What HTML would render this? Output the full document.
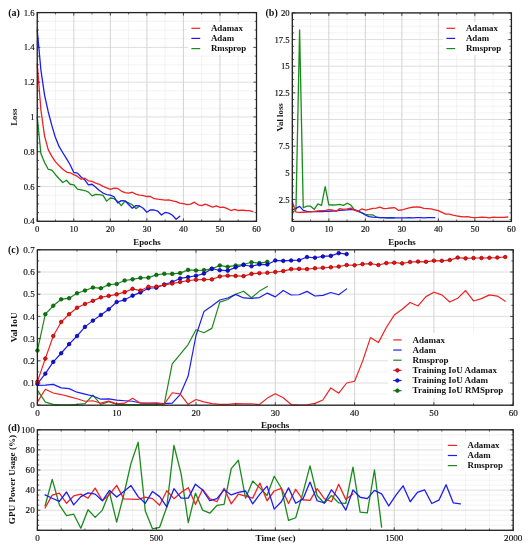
<!DOCTYPE html>
<html><head><meta charset="utf-8"><title>Figure</title>
<style>
html,body{margin:0;padding:0;background:#fff;}
body{width:528px;height:550px;overflow:hidden;}
svg{display:block;}
svg text{font-family:"Liberation Serif",serif;fill:#1a1a1a;}
.t{font-size:8.7px;fill:#0a0a0a;stroke:#0a0a0a;stroke-width:0.15px;}
.t2{font-size:9.1px;fill:#0a0a0a;stroke:#0a0a0a;stroke-width:0.15px;}
.b2{font-size:9.15px;font-weight:bold;fill:#111;}
.b{font-size:8.85px;font-weight:bold;fill:#111;}
</style></head><body>
<svg width="528" height="550" viewBox="0 0 528 550">
<rect width="528" height="550" fill="#fff"/>
<rect x="37.25" y="12.60" width="219.25" height="208.70" fill="#fff"/>
<line x1="55.52" x2="55.52" y1="12.60" y2="221.30" stroke="#eeeeee" stroke-width="0.7"/>
<line x1="92.06" x2="92.06" y1="12.60" y2="221.30" stroke="#eeeeee" stroke-width="0.7"/>
<line x1="128.60" x2="128.60" y1="12.60" y2="221.30" stroke="#eeeeee" stroke-width="0.7"/>
<line x1="165.15" x2="165.15" y1="12.60" y2="221.30" stroke="#eeeeee" stroke-width="0.7"/>
<line x1="201.69" x2="201.69" y1="12.60" y2="221.30" stroke="#eeeeee" stroke-width="0.7"/>
<line x1="238.23" x2="238.23" y1="12.60" y2="221.30" stroke="#eeeeee" stroke-width="0.7"/>
<line y1="212.60" y2="212.60" x1="37.25" x2="256.50" stroke="#eeeeee" stroke-width="0.7"/>
<line y1="203.91" y2="203.91" x1="37.25" x2="256.50" stroke="#eeeeee" stroke-width="0.7"/>
<line y1="195.21" y2="195.21" x1="37.25" x2="256.50" stroke="#eeeeee" stroke-width="0.7"/>
<line y1="177.82" y2="177.82" x1="37.25" x2="256.50" stroke="#eeeeee" stroke-width="0.7"/>
<line y1="169.12" y2="169.12" x1="37.25" x2="256.50" stroke="#eeeeee" stroke-width="0.7"/>
<line y1="160.43" y2="160.43" x1="37.25" x2="256.50" stroke="#eeeeee" stroke-width="0.7"/>
<line y1="143.04" y2="143.04" x1="37.25" x2="256.50" stroke="#eeeeee" stroke-width="0.7"/>
<line y1="134.34" y2="134.34" x1="37.25" x2="256.50" stroke="#eeeeee" stroke-width="0.7"/>
<line y1="125.65" y2="125.65" x1="37.25" x2="256.50" stroke="#eeeeee" stroke-width="0.7"/>
<line y1="108.25" y2="108.25" x1="37.25" x2="256.50" stroke="#eeeeee" stroke-width="0.7"/>
<line y1="99.56" y2="99.56" x1="37.25" x2="256.50" stroke="#eeeeee" stroke-width="0.7"/>
<line y1="90.86" y2="90.86" x1="37.25" x2="256.50" stroke="#eeeeee" stroke-width="0.7"/>
<line y1="73.47" y2="73.47" x1="37.25" x2="256.50" stroke="#eeeeee" stroke-width="0.7"/>
<line y1="64.78" y2="64.78" x1="37.25" x2="256.50" stroke="#eeeeee" stroke-width="0.7"/>
<line y1="56.08" y2="56.08" x1="37.25" x2="256.50" stroke="#eeeeee" stroke-width="0.7"/>
<line y1="38.69" y2="38.69" x1="37.25" x2="256.50" stroke="#eeeeee" stroke-width="0.7"/>
<line y1="29.99" y2="29.99" x1="37.25" x2="256.50" stroke="#eeeeee" stroke-width="0.7"/>
<line y1="21.30" y2="21.30" x1="37.25" x2="256.50" stroke="#eeeeee" stroke-width="0.7"/>
<line x1="37.25" x2="37.25" y1="12.60" y2="221.30" stroke="#c8c8c8" stroke-width="0.8"/>
<line x1="73.79" x2="73.79" y1="12.60" y2="221.30" stroke="#c8c8c8" stroke-width="0.8"/>
<line x1="110.33" x2="110.33" y1="12.60" y2="221.30" stroke="#c8c8c8" stroke-width="0.8"/>
<line x1="146.88" x2="146.88" y1="12.60" y2="221.30" stroke="#c8c8c8" stroke-width="0.8"/>
<line x1="183.42" x2="183.42" y1="12.60" y2="221.30" stroke="#c8c8c8" stroke-width="0.8"/>
<line x1="219.96" x2="219.96" y1="12.60" y2="221.30" stroke="#c8c8c8" stroke-width="0.8"/>
<line x1="256.50" x2="256.50" y1="12.60" y2="221.30" stroke="#c8c8c8" stroke-width="0.8"/>
<line y1="221.30" y2="221.30" x1="37.25" x2="256.50" stroke="#d6d6d6" stroke-width="0.8"/>
<line y1="186.52" y2="186.52" x1="37.25" x2="256.50" stroke="#d6d6d6" stroke-width="0.8"/>
<line y1="151.73" y2="151.73" x1="37.25" x2="256.50" stroke="#d6d6d6" stroke-width="0.8"/>
<line y1="116.95" y2="116.95" x1="37.25" x2="256.50" stroke="#d6d6d6" stroke-width="0.8"/>
<line y1="82.17" y2="82.17" x1="37.25" x2="256.50" stroke="#d6d6d6" stroke-width="0.8"/>
<line y1="47.38" y2="47.38" x1="37.25" x2="256.50" stroke="#d6d6d6" stroke-width="0.8"/>
<line y1="12.60" y2="12.60" x1="37.25" x2="256.50" stroke="#d6d6d6" stroke-width="0.8"/>
<polyline points="37.25,116.95 40.90,153.47 44.56,162.52 48.21,169.30 51.87,170.17 55.52,174.69 59.17,178.69 62.83,182.52 66.48,180.26 70.14,184.26 73.79,184.78 77.45,189.13 81.10,189.82 84.75,190.52 88.41,192.08 92.06,195.91 95.72,194.34 99.37,194.69 103.02,195.39 106.68,201.13 110.33,198.00 113.99,198.69 117.64,201.30 121.30,205.65 124.95,201.13 128.60,202.86 132.26,204.78 135.91,208.60 139.57,206.17" fill="none" stroke="#1a8a1a" stroke-width="1.3" stroke-linejoin="round" stroke-linecap="round"/>
<polyline points="37.25,29.99 40.90,69.99 44.56,95.04 48.21,111.73 51.87,125.65 55.52,137.82 59.17,146.69 62.83,152.78 66.48,158.69 70.14,164.78 73.79,172.43 77.45,173.13 81.10,176.95 84.75,179.91 88.41,184.78 92.06,184.26 95.72,187.21 99.37,190.52 103.02,193.04 106.68,194.52 110.33,195.04 113.99,196.78 117.64,202.86 121.30,200.60 124.95,200.78 128.60,204.43 132.26,208.26 135.91,205.65 139.57,206.00 143.22,208.26 146.88,212.26 150.53,209.82 154.18,210.00 157.84,211.21 161.49,215.04 165.15,212.43 168.80,213.13 172.45,215.30 176.11,219.21 179.76,216.26" fill="none" stroke="#1c1cf0" stroke-width="1.3" stroke-linejoin="round" stroke-linecap="round"/>
<polyline points="37.25,63.91 40.90,109.99 44.56,136.08 48.21,149.65 51.87,156.43 55.52,161.82 59.17,165.82 62.83,169.30 66.48,172.08 70.14,172.78 73.79,174.69 77.45,176.43 81.10,179.21 84.75,178.17 88.41,180.78 92.06,181.47 95.72,183.04 99.37,184.26 103.02,186.34 106.68,187.91 110.33,189.30 113.99,188.08 117.64,188.43 121.30,191.04 124.95,192.60 128.60,193.04 132.26,192.26 135.91,194.17 139.57,195.04 143.22,195.73 146.88,196.52 150.53,196.43 154.18,198.69 157.84,199.21 161.49,199.56 165.15,200.08 168.80,199.91 172.45,200.78 176.11,201.65 179.76,203.21 183.42,203.56 187.07,204.60 190.72,204.08 194.38,202.17 198.03,204.78 201.69,205.65 205.34,204.08 209.00,205.65 212.65,207.13 216.30,205.91 219.96,207.39 223.61,207.13 227.27,208.60 230.92,210.52 234.58,209.47 238.23,210.52 241.88,210.17 245.54,210.52 249.19,210.60 252.85,211.56" fill="none" stroke="#ee2222" stroke-width="1.3" stroke-linejoin="round" stroke-linecap="round"/>
<line x1="37.25" x2="37.25" y1="221.30" y2="218.30" stroke="#222" stroke-width="0.8"/>
<line x1="37.25" x2="37.25" y1="12.60" y2="15.60" stroke="#222" stroke-width="0.8"/>
<text x="37.25" y="231.90" text-anchor="middle" class="t">0</text>
<line x1="73.79" x2="73.79" y1="221.30" y2="218.30" stroke="#222" stroke-width="0.8"/>
<line x1="73.79" x2="73.79" y1="12.60" y2="15.60" stroke="#222" stroke-width="0.8"/>
<text x="73.79" y="231.90" text-anchor="middle" class="t">10</text>
<line x1="110.33" x2="110.33" y1="221.30" y2="218.30" stroke="#222" stroke-width="0.8"/>
<line x1="110.33" x2="110.33" y1="12.60" y2="15.60" stroke="#222" stroke-width="0.8"/>
<text x="110.33" y="231.90" text-anchor="middle" class="t">20</text>
<line x1="146.88" x2="146.88" y1="221.30" y2="218.30" stroke="#222" stroke-width="0.8"/>
<line x1="146.88" x2="146.88" y1="12.60" y2="15.60" stroke="#222" stroke-width="0.8"/>
<text x="146.88" y="231.90" text-anchor="middle" class="t">30</text>
<line x1="183.42" x2="183.42" y1="221.30" y2="218.30" stroke="#222" stroke-width="0.8"/>
<line x1="183.42" x2="183.42" y1="12.60" y2="15.60" stroke="#222" stroke-width="0.8"/>
<text x="183.42" y="231.90" text-anchor="middle" class="t">40</text>
<line x1="219.96" x2="219.96" y1="221.30" y2="218.30" stroke="#222" stroke-width="0.8"/>
<line x1="219.96" x2="219.96" y1="12.60" y2="15.60" stroke="#222" stroke-width="0.8"/>
<text x="219.96" y="231.90" text-anchor="middle" class="t">50</text>
<line x1="256.50" x2="256.50" y1="221.30" y2="218.30" stroke="#222" stroke-width="0.8"/>
<line x1="256.50" x2="256.50" y1="12.60" y2="15.60" stroke="#222" stroke-width="0.8"/>
<text x="256.50" y="231.90" text-anchor="middle" class="t">60</text>
<line x1="55.52" x2="55.52" y1="221.30" y2="219.50" stroke="#222" stroke-width="0.7"/>
<line x1="55.52" x2="55.52" y1="12.60" y2="14.40" stroke="#222" stroke-width="0.7"/>
<line x1="92.06" x2="92.06" y1="221.30" y2="219.50" stroke="#222" stroke-width="0.7"/>
<line x1="92.06" x2="92.06" y1="12.60" y2="14.40" stroke="#222" stroke-width="0.7"/>
<line x1="128.60" x2="128.60" y1="221.30" y2="219.50" stroke="#222" stroke-width="0.7"/>
<line x1="128.60" x2="128.60" y1="12.60" y2="14.40" stroke="#222" stroke-width="0.7"/>
<line x1="165.15" x2="165.15" y1="221.30" y2="219.50" stroke="#222" stroke-width="0.7"/>
<line x1="165.15" x2="165.15" y1="12.60" y2="14.40" stroke="#222" stroke-width="0.7"/>
<line x1="201.69" x2="201.69" y1="221.30" y2="219.50" stroke="#222" stroke-width="0.7"/>
<line x1="201.69" x2="201.69" y1="12.60" y2="14.40" stroke="#222" stroke-width="0.7"/>
<line x1="238.23" x2="238.23" y1="221.30" y2="219.50" stroke="#222" stroke-width="0.7"/>
<line x1="238.23" x2="238.23" y1="12.60" y2="14.40" stroke="#222" stroke-width="0.7"/>
<line y1="221.30" y2="221.30" x1="37.25" x2="40.25" stroke="#222" stroke-width="0.8"/>
<line y1="221.30" y2="221.30" x1="256.50" x2="253.50" stroke="#222" stroke-width="0.8"/>
<text x="34.55" y="224.40" text-anchor="end" class="t">0.4</text>
<line y1="186.52" y2="186.52" x1="37.25" x2="40.25" stroke="#222" stroke-width="0.8"/>
<line y1="186.52" y2="186.52" x1="256.50" x2="253.50" stroke="#222" stroke-width="0.8"/>
<text x="34.55" y="189.62" text-anchor="end" class="t">0.6</text>
<line y1="151.73" y2="151.73" x1="37.25" x2="40.25" stroke="#222" stroke-width="0.8"/>
<line y1="151.73" y2="151.73" x1="256.50" x2="253.50" stroke="#222" stroke-width="0.8"/>
<text x="34.55" y="154.83" text-anchor="end" class="t">0.8</text>
<line y1="116.95" y2="116.95" x1="37.25" x2="40.25" stroke="#222" stroke-width="0.8"/>
<line y1="116.95" y2="116.95" x1="256.50" x2="253.50" stroke="#222" stroke-width="0.8"/>
<text x="34.55" y="120.05" text-anchor="end" class="t">1</text>
<line y1="82.17" y2="82.17" x1="37.25" x2="40.25" stroke="#222" stroke-width="0.8"/>
<line y1="82.17" y2="82.17" x1="256.50" x2="253.50" stroke="#222" stroke-width="0.8"/>
<text x="34.55" y="85.27" text-anchor="end" class="t">1.2</text>
<line y1="47.38" y2="47.38" x1="37.25" x2="40.25" stroke="#222" stroke-width="0.8"/>
<line y1="47.38" y2="47.38" x1="256.50" x2="253.50" stroke="#222" stroke-width="0.8"/>
<text x="34.55" y="50.48" text-anchor="end" class="t">1.4</text>
<line y1="12.60" y2="12.60" x1="37.25" x2="40.25" stroke="#222" stroke-width="0.8"/>
<line y1="12.60" y2="12.60" x1="256.50" x2="253.50" stroke="#222" stroke-width="0.8"/>
<text x="34.55" y="15.70" text-anchor="end" class="t">1.6</text>
<line y1="212.60" y2="212.60" x1="37.25" x2="39.05" stroke="#222" stroke-width="0.7"/>
<line y1="212.60" y2="212.60" x1="256.50" x2="254.70" stroke="#222" stroke-width="0.7"/>
<line y1="203.91" y2="203.91" x1="37.25" x2="39.05" stroke="#222" stroke-width="0.7"/>
<line y1="203.91" y2="203.91" x1="256.50" x2="254.70" stroke="#222" stroke-width="0.7"/>
<line y1="195.21" y2="195.21" x1="37.25" x2="39.05" stroke="#222" stroke-width="0.7"/>
<line y1="195.21" y2="195.21" x1="256.50" x2="254.70" stroke="#222" stroke-width="0.7"/>
<line y1="177.82" y2="177.82" x1="37.25" x2="39.05" stroke="#222" stroke-width="0.7"/>
<line y1="177.82" y2="177.82" x1="256.50" x2="254.70" stroke="#222" stroke-width="0.7"/>
<line y1="169.12" y2="169.12" x1="37.25" x2="39.05" stroke="#222" stroke-width="0.7"/>
<line y1="169.12" y2="169.12" x1="256.50" x2="254.70" stroke="#222" stroke-width="0.7"/>
<line y1="160.43" y2="160.43" x1="37.25" x2="39.05" stroke="#222" stroke-width="0.7"/>
<line y1="160.43" y2="160.43" x1="256.50" x2="254.70" stroke="#222" stroke-width="0.7"/>
<line y1="143.04" y2="143.04" x1="37.25" x2="39.05" stroke="#222" stroke-width="0.7"/>
<line y1="143.04" y2="143.04" x1="256.50" x2="254.70" stroke="#222" stroke-width="0.7"/>
<line y1="134.34" y2="134.34" x1="37.25" x2="39.05" stroke="#222" stroke-width="0.7"/>
<line y1="134.34" y2="134.34" x1="256.50" x2="254.70" stroke="#222" stroke-width="0.7"/>
<line y1="125.65" y2="125.65" x1="37.25" x2="39.05" stroke="#222" stroke-width="0.7"/>
<line y1="125.65" y2="125.65" x1="256.50" x2="254.70" stroke="#222" stroke-width="0.7"/>
<line y1="108.25" y2="108.25" x1="37.25" x2="39.05" stroke="#222" stroke-width="0.7"/>
<line y1="108.25" y2="108.25" x1="256.50" x2="254.70" stroke="#222" stroke-width="0.7"/>
<line y1="99.56" y2="99.56" x1="37.25" x2="39.05" stroke="#222" stroke-width="0.7"/>
<line y1="99.56" y2="99.56" x1="256.50" x2="254.70" stroke="#222" stroke-width="0.7"/>
<line y1="90.86" y2="90.86" x1="37.25" x2="39.05" stroke="#222" stroke-width="0.7"/>
<line y1="90.86" y2="90.86" x1="256.50" x2="254.70" stroke="#222" stroke-width="0.7"/>
<line y1="73.47" y2="73.47" x1="37.25" x2="39.05" stroke="#222" stroke-width="0.7"/>
<line y1="73.47" y2="73.47" x1="256.50" x2="254.70" stroke="#222" stroke-width="0.7"/>
<line y1="64.78" y2="64.78" x1="37.25" x2="39.05" stroke="#222" stroke-width="0.7"/>
<line y1="64.78" y2="64.78" x1="256.50" x2="254.70" stroke="#222" stroke-width="0.7"/>
<line y1="56.08" y2="56.08" x1="37.25" x2="39.05" stroke="#222" stroke-width="0.7"/>
<line y1="56.08" y2="56.08" x1="256.50" x2="254.70" stroke="#222" stroke-width="0.7"/>
<line y1="38.69" y2="38.69" x1="37.25" x2="39.05" stroke="#222" stroke-width="0.7"/>
<line y1="38.69" y2="38.69" x1="256.50" x2="254.70" stroke="#222" stroke-width="0.7"/>
<line y1="29.99" y2="29.99" x1="37.25" x2="39.05" stroke="#222" stroke-width="0.7"/>
<line y1="29.99" y2="29.99" x1="256.50" x2="254.70" stroke="#222" stroke-width="0.7"/>
<line y1="21.30" y2="21.30" x1="37.25" x2="39.05" stroke="#222" stroke-width="0.7"/>
<line y1="21.30" y2="21.30" x1="256.50" x2="254.70" stroke="#222" stroke-width="0.7"/>
<rect x="37.25" y="12.60" width="219.25" height="208.70" fill="none" stroke="#222" stroke-width="1.3"/>
<rect x="188" y="22" width="64" height="33" fill="#fff"/>
<line x1="191.4" x2="200.2" y1="28.30" y2="28.30" stroke="#ee2222" stroke-width="1.2"/>
<text x="210.9" y="31.00" class="b" style="font-size:8.9px">Adamax</text>
<line x1="191.4" x2="200.2" y1="38.40" y2="38.40" stroke="#1c1cf0" stroke-width="1.2"/>
<text x="210.9" y="41.10" class="b" style="font-size:8.9px">Adam</text>
<line x1="191.4" x2="200.2" y1="48.60" y2="48.60" stroke="#1a8a1a" stroke-width="1.2"/>
<text x="210.9" y="51.30" class="b" style="font-size:8.9px">Rmsprop</text>
<text x="147" y="244.7" text-anchor="middle" class="b">Epochs</text>
<text transform="translate(16.7,117.2) rotate(-90)" text-anchor="middle" class="b">Loss</text>
<text x="8.2" y="15.5" class="b" style="font-size:10px">(a)</text>
<rect x="292.30" y="12.90" width="219.10" height="208.50" fill="#fff"/>
<line x1="310.56" x2="310.56" y1="12.90" y2="221.40" stroke="#eeeeee" stroke-width="0.7"/>
<line x1="347.07" x2="347.07" y1="12.90" y2="221.40" stroke="#eeeeee" stroke-width="0.7"/>
<line x1="383.59" x2="383.59" y1="12.90" y2="221.40" stroke="#eeeeee" stroke-width="0.7"/>
<line x1="420.11" x2="420.11" y1="12.90" y2="221.40" stroke="#eeeeee" stroke-width="0.7"/>
<line x1="456.62" x2="456.62" y1="12.90" y2="221.40" stroke="#eeeeee" stroke-width="0.7"/>
<line x1="493.14" x2="493.14" y1="12.90" y2="221.40" stroke="#eeeeee" stroke-width="0.7"/>
<line y1="219.44" y2="219.44" x1="292.30" x2="511.40" stroke="#eeeeee" stroke-width="0.7"/>
<line y1="212.78" y2="212.78" x1="292.30" x2="511.40" stroke="#eeeeee" stroke-width="0.7"/>
<line y1="206.11" y2="206.11" x1="292.30" x2="511.40" stroke="#eeeeee" stroke-width="0.7"/>
<line y1="192.79" y2="192.79" x1="292.30" x2="511.40" stroke="#eeeeee" stroke-width="0.7"/>
<line y1="186.13" y2="186.13" x1="292.30" x2="511.40" stroke="#eeeeee" stroke-width="0.7"/>
<line y1="179.46" y2="179.46" x1="292.30" x2="511.40" stroke="#eeeeee" stroke-width="0.7"/>
<line y1="166.14" y2="166.14" x1="292.30" x2="511.40" stroke="#eeeeee" stroke-width="0.7"/>
<line y1="159.48" y2="159.48" x1="292.30" x2="511.40" stroke="#eeeeee" stroke-width="0.7"/>
<line y1="152.81" y2="152.81" x1="292.30" x2="511.40" stroke="#eeeeee" stroke-width="0.7"/>
<line y1="139.49" y2="139.49" x1="292.30" x2="511.40" stroke="#eeeeee" stroke-width="0.7"/>
<line y1="132.83" y2="132.83" x1="292.30" x2="511.40" stroke="#eeeeee" stroke-width="0.7"/>
<line y1="126.16" y2="126.16" x1="292.30" x2="511.40" stroke="#eeeeee" stroke-width="0.7"/>
<line y1="112.84" y2="112.84" x1="292.30" x2="511.40" stroke="#eeeeee" stroke-width="0.7"/>
<line y1="106.18" y2="106.18" x1="292.30" x2="511.40" stroke="#eeeeee" stroke-width="0.7"/>
<line y1="99.51" y2="99.51" x1="292.30" x2="511.40" stroke="#eeeeee" stroke-width="0.7"/>
<line y1="86.19" y2="86.19" x1="292.30" x2="511.40" stroke="#eeeeee" stroke-width="0.7"/>
<line y1="79.53" y2="79.53" x1="292.30" x2="511.40" stroke="#eeeeee" stroke-width="0.7"/>
<line y1="72.86" y2="72.86" x1="292.30" x2="511.40" stroke="#eeeeee" stroke-width="0.7"/>
<line y1="59.54" y2="59.54" x1="292.30" x2="511.40" stroke="#eeeeee" stroke-width="0.7"/>
<line y1="52.88" y2="52.88" x1="292.30" x2="511.40" stroke="#eeeeee" stroke-width="0.7"/>
<line y1="46.21" y2="46.21" x1="292.30" x2="511.40" stroke="#eeeeee" stroke-width="0.7"/>
<line y1="32.89" y2="32.89" x1="292.30" x2="511.40" stroke="#eeeeee" stroke-width="0.7"/>
<line y1="26.23" y2="26.23" x1="292.30" x2="511.40" stroke="#eeeeee" stroke-width="0.7"/>
<line y1="19.56" y2="19.56" x1="292.30" x2="511.40" stroke="#eeeeee" stroke-width="0.7"/>
<line x1="292.30" x2="292.30" y1="12.90" y2="221.40" stroke="#c8c8c8" stroke-width="0.8"/>
<line x1="328.82" x2="328.82" y1="12.90" y2="221.40" stroke="#c8c8c8" stroke-width="0.8"/>
<line x1="365.33" x2="365.33" y1="12.90" y2="221.40" stroke="#c8c8c8" stroke-width="0.8"/>
<line x1="401.85" x2="401.85" y1="12.90" y2="221.40" stroke="#c8c8c8" stroke-width="0.8"/>
<line x1="438.37" x2="438.37" y1="12.90" y2="221.40" stroke="#c8c8c8" stroke-width="0.8"/>
<line x1="474.88" x2="474.88" y1="12.90" y2="221.40" stroke="#c8c8c8" stroke-width="0.8"/>
<line x1="511.40" x2="511.40" y1="12.90" y2="221.40" stroke="#c8c8c8" stroke-width="0.8"/>
<line y1="199.45" y2="199.45" x1="292.30" x2="511.40" stroke="#d6d6d6" stroke-width="0.8"/>
<line y1="172.80" y2="172.80" x1="292.30" x2="511.40" stroke="#d6d6d6" stroke-width="0.8"/>
<line y1="146.15" y2="146.15" x1="292.30" x2="511.40" stroke="#d6d6d6" stroke-width="0.8"/>
<line y1="119.50" y2="119.50" x1="292.30" x2="511.40" stroke="#d6d6d6" stroke-width="0.8"/>
<line y1="92.85" y2="92.85" x1="292.30" x2="511.40" stroke="#d6d6d6" stroke-width="0.8"/>
<line y1="66.20" y2="66.20" x1="292.30" x2="511.40" stroke="#d6d6d6" stroke-width="0.8"/>
<line y1="39.55" y2="39.55" x1="292.30" x2="511.40" stroke="#d6d6d6" stroke-width="0.8"/>
<line y1="12.90" y2="12.90" x1="292.30" x2="511.40" stroke="#d6d6d6" stroke-width="0.8"/>
<clipPath id="cb"><rect x="292.3" y="12.9" width="219.09999999999997" height="208.5"/></clipPath>
<polyline points="292.30,212.24 295.95,210.00 299.60,29.96 303.25,207.76 306.91,206.17 310.56,206.17 314.21,209.26 317.86,203.93 321.51,205.42 325.17,186.55 328.82,204.78 332.47,204.99 336.12,204.78 339.77,204.35 343.42,205.42 347.07,203.18 350.73,204.99 354.38,210.00 358.03,211.50 361.68,212.67 365.33,214.37 368.99,214.91 372.64,214.91 376.29,216.99 379.94,217.57 383.59,217.68 387.24,217.79 390.89,217.68 394.55,217.79" fill="none" stroke="#1a8a1a" stroke-width="1.3" stroke-linejoin="round" stroke-linecap="round"/>
<polyline points="292.30,209.79 295.95,208.40 299.60,206.38 303.25,210.32 306.91,211.39 310.56,211.60 314.21,211.66 317.86,211.60 321.51,211.50 325.17,211.39 328.82,211.28 332.47,211.02 336.12,210.79 339.77,210.43 343.42,210.11 347.07,209.90 350.73,209.58 354.38,209.68 358.03,210.96 361.68,212.78 365.33,215.01 368.99,216.61 372.64,217.15 376.29,217.47 379.94,217.68 383.59,217.68 387.24,217.79 390.89,217.68 394.55,217.79 398.20,217.89 401.85,217.79 405.50,217.79 409.15,217.68 412.81,217.79 416.46,217.68 420.11,217.68 423.76,217.79 427.41,217.68 431.06,217.68 434.72,217.68" fill="none" stroke="#1c1cf0" stroke-width="1.3" stroke-linejoin="round" stroke-linecap="round"/>
<polyline points="292.30,201.69 295.95,212.14 299.60,212.35 303.25,212.24 306.91,212.14 310.56,211.92 314.21,211.34 317.86,210.91 321.51,210.57 325.17,210.67 328.82,209.55 332.47,210.00 336.12,211.28 339.77,208.62 343.42,209.43 347.07,208.86 350.73,208.19 354.38,210.11 358.03,211.18 361.68,208.94 365.33,210.11 368.99,209.31 372.64,208.30 376.29,208.08 379.94,207.23 383.59,208.62 387.24,208.46 390.89,207.98 394.55,207.60 398.20,210.32 401.85,210.00 405.50,208.94 409.15,207.98 412.81,207.23 416.46,206.91 420.11,207.23 423.76,208.30 427.41,208.62 431.06,208.94 434.72,209.79 438.37,210.64 442.02,212.35 445.67,214.05 449.32,214.05 452.97,215.12 456.62,215.97 460.28,216.51 463.93,216.83 467.58,216.61 471.23,217.36 474.88,217.68 478.53,217.47 482.19,217.15 485.84,217.47 489.49,217.84 493.14,217.15 496.79,217.36 500.44,217.47 504.10,217.36 507.75,216.99" fill="none" stroke="#ee2222" stroke-width="1.3" stroke-linejoin="round" stroke-linecap="round"/>
<line x1="292.30" x2="292.30" y1="221.40" y2="218.40" stroke="#222" stroke-width="0.8"/>
<line x1="292.30" x2="292.30" y1="12.90" y2="15.90" stroke="#222" stroke-width="0.8"/>
<text x="292.30" y="232.00" text-anchor="middle" class="t">0</text>
<line x1="328.82" x2="328.82" y1="221.40" y2="218.40" stroke="#222" stroke-width="0.8"/>
<line x1="328.82" x2="328.82" y1="12.90" y2="15.90" stroke="#222" stroke-width="0.8"/>
<text x="328.82" y="232.00" text-anchor="middle" class="t">10</text>
<line x1="365.33" x2="365.33" y1="221.40" y2="218.40" stroke="#222" stroke-width="0.8"/>
<line x1="365.33" x2="365.33" y1="12.90" y2="15.90" stroke="#222" stroke-width="0.8"/>
<text x="365.33" y="232.00" text-anchor="middle" class="t">20</text>
<line x1="401.85" x2="401.85" y1="221.40" y2="218.40" stroke="#222" stroke-width="0.8"/>
<line x1="401.85" x2="401.85" y1="12.90" y2="15.90" stroke="#222" stroke-width="0.8"/>
<text x="401.85" y="232.00" text-anchor="middle" class="t">30</text>
<line x1="438.37" x2="438.37" y1="221.40" y2="218.40" stroke="#222" stroke-width="0.8"/>
<line x1="438.37" x2="438.37" y1="12.90" y2="15.90" stroke="#222" stroke-width="0.8"/>
<text x="438.37" y="232.00" text-anchor="middle" class="t">40</text>
<line x1="474.88" x2="474.88" y1="221.40" y2="218.40" stroke="#222" stroke-width="0.8"/>
<line x1="474.88" x2="474.88" y1="12.90" y2="15.90" stroke="#222" stroke-width="0.8"/>
<text x="474.88" y="232.00" text-anchor="middle" class="t">50</text>
<line x1="511.40" x2="511.40" y1="221.40" y2="218.40" stroke="#222" stroke-width="0.8"/>
<line x1="511.40" x2="511.40" y1="12.90" y2="15.90" stroke="#222" stroke-width="0.8"/>
<text x="511.40" y="232.00" text-anchor="middle" class="t">60</text>
<line x1="310.56" x2="310.56" y1="221.40" y2="219.60" stroke="#222" stroke-width="0.7"/>
<line x1="310.56" x2="310.56" y1="12.90" y2="14.70" stroke="#222" stroke-width="0.7"/>
<line x1="347.07" x2="347.07" y1="221.40" y2="219.60" stroke="#222" stroke-width="0.7"/>
<line x1="347.07" x2="347.07" y1="12.90" y2="14.70" stroke="#222" stroke-width="0.7"/>
<line x1="383.59" x2="383.59" y1="221.40" y2="219.60" stroke="#222" stroke-width="0.7"/>
<line x1="383.59" x2="383.59" y1="12.90" y2="14.70" stroke="#222" stroke-width="0.7"/>
<line x1="420.11" x2="420.11" y1="221.40" y2="219.60" stroke="#222" stroke-width="0.7"/>
<line x1="420.11" x2="420.11" y1="12.90" y2="14.70" stroke="#222" stroke-width="0.7"/>
<line x1="456.62" x2="456.62" y1="221.40" y2="219.60" stroke="#222" stroke-width="0.7"/>
<line x1="456.62" x2="456.62" y1="12.90" y2="14.70" stroke="#222" stroke-width="0.7"/>
<line x1="493.14" x2="493.14" y1="221.40" y2="219.60" stroke="#222" stroke-width="0.7"/>
<line x1="493.14" x2="493.14" y1="12.90" y2="14.70" stroke="#222" stroke-width="0.7"/>
<line y1="199.45" y2="199.45" x1="292.30" x2="295.30" stroke="#222" stroke-width="0.8"/>
<line y1="199.45" y2="199.45" x1="511.40" x2="508.40" stroke="#222" stroke-width="0.8"/>
<text x="289.60" y="202.55" text-anchor="end" class="t">2.5</text>
<line y1="172.80" y2="172.80" x1="292.30" x2="295.30" stroke="#222" stroke-width="0.8"/>
<line y1="172.80" y2="172.80" x1="511.40" x2="508.40" stroke="#222" stroke-width="0.8"/>
<text x="289.60" y="175.90" text-anchor="end" class="t">5</text>
<line y1="146.15" y2="146.15" x1="292.30" x2="295.30" stroke="#222" stroke-width="0.8"/>
<line y1="146.15" y2="146.15" x1="511.40" x2="508.40" stroke="#222" stroke-width="0.8"/>
<text x="289.60" y="149.25" text-anchor="end" class="t">7.5</text>
<line y1="119.50" y2="119.50" x1="292.30" x2="295.30" stroke="#222" stroke-width="0.8"/>
<line y1="119.50" y2="119.50" x1="511.40" x2="508.40" stroke="#222" stroke-width="0.8"/>
<line y1="92.85" y2="92.85" x1="292.30" x2="295.30" stroke="#222" stroke-width="0.8"/>
<line y1="92.85" y2="92.85" x1="511.40" x2="508.40" stroke="#222" stroke-width="0.8"/>
<text x="289.60" y="95.95" text-anchor="end" class="t">12.5</text>
<line y1="66.20" y2="66.20" x1="292.30" x2="295.30" stroke="#222" stroke-width="0.8"/>
<line y1="66.20" y2="66.20" x1="511.40" x2="508.40" stroke="#222" stroke-width="0.8"/>
<text x="289.60" y="69.30" text-anchor="end" class="t">15</text>
<line y1="39.55" y2="39.55" x1="292.30" x2="295.30" stroke="#222" stroke-width="0.8"/>
<line y1="39.55" y2="39.55" x1="511.40" x2="508.40" stroke="#222" stroke-width="0.8"/>
<text x="289.60" y="42.65" text-anchor="end" class="t">17.5</text>
<line y1="12.90" y2="12.90" x1="292.30" x2="295.30" stroke="#222" stroke-width="0.8"/>
<line y1="12.90" y2="12.90" x1="511.40" x2="508.40" stroke="#222" stroke-width="0.8"/>
<text x="289.60" y="16.00" text-anchor="end" class="t">20</text>
<line y1="219.44" y2="219.44" x1="292.30" x2="294.10" stroke="#222" stroke-width="0.7"/>
<line y1="219.44" y2="219.44" x1="511.40" x2="509.60" stroke="#222" stroke-width="0.7"/>
<line y1="212.78" y2="212.78" x1="292.30" x2="294.10" stroke="#222" stroke-width="0.7"/>
<line y1="212.78" y2="212.78" x1="511.40" x2="509.60" stroke="#222" stroke-width="0.7"/>
<line y1="206.11" y2="206.11" x1="292.30" x2="294.10" stroke="#222" stroke-width="0.7"/>
<line y1="206.11" y2="206.11" x1="511.40" x2="509.60" stroke="#222" stroke-width="0.7"/>
<line y1="192.79" y2="192.79" x1="292.30" x2="294.10" stroke="#222" stroke-width="0.7"/>
<line y1="192.79" y2="192.79" x1="511.40" x2="509.60" stroke="#222" stroke-width="0.7"/>
<line y1="186.13" y2="186.13" x1="292.30" x2="294.10" stroke="#222" stroke-width="0.7"/>
<line y1="186.13" y2="186.13" x1="511.40" x2="509.60" stroke="#222" stroke-width="0.7"/>
<line y1="179.46" y2="179.46" x1="292.30" x2="294.10" stroke="#222" stroke-width="0.7"/>
<line y1="179.46" y2="179.46" x1="511.40" x2="509.60" stroke="#222" stroke-width="0.7"/>
<line y1="166.14" y2="166.14" x1="292.30" x2="294.10" stroke="#222" stroke-width="0.7"/>
<line y1="166.14" y2="166.14" x1="511.40" x2="509.60" stroke="#222" stroke-width="0.7"/>
<line y1="159.48" y2="159.48" x1="292.30" x2="294.10" stroke="#222" stroke-width="0.7"/>
<line y1="159.48" y2="159.48" x1="511.40" x2="509.60" stroke="#222" stroke-width="0.7"/>
<line y1="152.81" y2="152.81" x1="292.30" x2="294.10" stroke="#222" stroke-width="0.7"/>
<line y1="152.81" y2="152.81" x1="511.40" x2="509.60" stroke="#222" stroke-width="0.7"/>
<line y1="139.49" y2="139.49" x1="292.30" x2="294.10" stroke="#222" stroke-width="0.7"/>
<line y1="139.49" y2="139.49" x1="511.40" x2="509.60" stroke="#222" stroke-width="0.7"/>
<line y1="132.83" y2="132.83" x1="292.30" x2="294.10" stroke="#222" stroke-width="0.7"/>
<line y1="132.83" y2="132.83" x1="511.40" x2="509.60" stroke="#222" stroke-width="0.7"/>
<line y1="126.16" y2="126.16" x1="292.30" x2="294.10" stroke="#222" stroke-width="0.7"/>
<line y1="126.16" y2="126.16" x1="511.40" x2="509.60" stroke="#222" stroke-width="0.7"/>
<line y1="112.84" y2="112.84" x1="292.30" x2="294.10" stroke="#222" stroke-width="0.7"/>
<line y1="112.84" y2="112.84" x1="511.40" x2="509.60" stroke="#222" stroke-width="0.7"/>
<line y1="106.18" y2="106.18" x1="292.30" x2="294.10" stroke="#222" stroke-width="0.7"/>
<line y1="106.18" y2="106.18" x1="511.40" x2="509.60" stroke="#222" stroke-width="0.7"/>
<line y1="99.51" y2="99.51" x1="292.30" x2="294.10" stroke="#222" stroke-width="0.7"/>
<line y1="99.51" y2="99.51" x1="511.40" x2="509.60" stroke="#222" stroke-width="0.7"/>
<line y1="86.19" y2="86.19" x1="292.30" x2="294.10" stroke="#222" stroke-width="0.7"/>
<line y1="86.19" y2="86.19" x1="511.40" x2="509.60" stroke="#222" stroke-width="0.7"/>
<line y1="79.53" y2="79.53" x1="292.30" x2="294.10" stroke="#222" stroke-width="0.7"/>
<line y1="79.53" y2="79.53" x1="511.40" x2="509.60" stroke="#222" stroke-width="0.7"/>
<line y1="72.86" y2="72.86" x1="292.30" x2="294.10" stroke="#222" stroke-width="0.7"/>
<line y1="72.86" y2="72.86" x1="511.40" x2="509.60" stroke="#222" stroke-width="0.7"/>
<line y1="59.54" y2="59.54" x1="292.30" x2="294.10" stroke="#222" stroke-width="0.7"/>
<line y1="59.54" y2="59.54" x1="511.40" x2="509.60" stroke="#222" stroke-width="0.7"/>
<line y1="52.88" y2="52.88" x1="292.30" x2="294.10" stroke="#222" stroke-width="0.7"/>
<line y1="52.88" y2="52.88" x1="511.40" x2="509.60" stroke="#222" stroke-width="0.7"/>
<line y1="46.21" y2="46.21" x1="292.30" x2="294.10" stroke="#222" stroke-width="0.7"/>
<line y1="46.21" y2="46.21" x1="511.40" x2="509.60" stroke="#222" stroke-width="0.7"/>
<line y1="32.89" y2="32.89" x1="292.30" x2="294.10" stroke="#222" stroke-width="0.7"/>
<line y1="32.89" y2="32.89" x1="511.40" x2="509.60" stroke="#222" stroke-width="0.7"/>
<line y1="26.23" y2="26.23" x1="292.30" x2="294.10" stroke="#222" stroke-width="0.7"/>
<line y1="26.23" y2="26.23" x1="511.40" x2="509.60" stroke="#222" stroke-width="0.7"/>
<line y1="19.56" y2="19.56" x1="292.30" x2="294.10" stroke="#222" stroke-width="0.7"/>
<line y1="19.56" y2="19.56" x1="511.40" x2="509.60" stroke="#222" stroke-width="0.7"/>
<rect x="292.30" y="12.90" width="219.10" height="208.50" fill="none" stroke="#222" stroke-width="1.3"/>
<rect x="443" y="22" width="64" height="33" fill="#fff"/>
<line x1="446.4" x2="455.2" y1="28.30" y2="28.30" stroke="#ee2222" stroke-width="1.2"/>
<text x="465.9" y="31.00" class="b" style="font-size:8.9px">Adamax</text>
<line x1="446.4" x2="455.2" y1="38.40" y2="38.40" stroke="#1c1cf0" stroke-width="1.2"/>
<text x="465.9" y="41.10" class="b" style="font-size:8.9px">Adam</text>
<line x1="446.4" x2="455.2" y1="48.60" y2="48.60" stroke="#1a8a1a" stroke-width="1.2"/>
<text x="465.9" y="51.30" class="b" style="font-size:8.9px">Rmsprop</text>
<text x="402" y="244.7" text-anchor="middle" class="b">Epochs</text>
<text transform="translate(282.5,117.4) rotate(-90)" text-anchor="middle" class="b">Val loss</text>
<text x="265.5" y="15.5" class="b" style="font-size:10px">(b)</text>
<rect x="37.40" y="249.80" width="475.80" height="155.40" fill="#fff"/>
<line x1="77.05" x2="77.05" y1="249.80" y2="405.20" stroke="#eeeeee" stroke-width="0.7"/>
<line x1="156.35" x2="156.35" y1="249.80" y2="405.20" stroke="#eeeeee" stroke-width="0.7"/>
<line x1="235.65" x2="235.65" y1="249.80" y2="405.20" stroke="#eeeeee" stroke-width="0.7"/>
<line x1="314.95" x2="314.95" y1="249.80" y2="405.20" stroke="#eeeeee" stroke-width="0.7"/>
<line x1="394.25" x2="394.25" y1="249.80" y2="405.20" stroke="#eeeeee" stroke-width="0.7"/>
<line x1="473.55" x2="473.55" y1="249.80" y2="405.20" stroke="#eeeeee" stroke-width="0.7"/>
<line y1="394.10" y2="394.10" x1="37.40" x2="513.20" stroke="#eeeeee" stroke-width="0.7"/>
<line y1="371.90" y2="371.90" x1="37.40" x2="513.20" stroke="#eeeeee" stroke-width="0.7"/>
<line y1="349.70" y2="349.70" x1="37.40" x2="513.20" stroke="#eeeeee" stroke-width="0.7"/>
<line y1="327.50" y2="327.50" x1="37.40" x2="513.20" stroke="#eeeeee" stroke-width="0.7"/>
<line y1="305.30" y2="305.30" x1="37.40" x2="513.20" stroke="#eeeeee" stroke-width="0.7"/>
<line y1="283.10" y2="283.10" x1="37.40" x2="513.20" stroke="#eeeeee" stroke-width="0.7"/>
<line y1="260.90" y2="260.90" x1="37.40" x2="513.20" stroke="#eeeeee" stroke-width="0.7"/>
<line x1="37.40" x2="37.40" y1="249.80" y2="405.20" stroke="#c8c8c8" stroke-width="0.8"/>
<line x1="116.70" x2="116.70" y1="249.80" y2="405.20" stroke="#c8c8c8" stroke-width="0.8"/>
<line x1="196.00" x2="196.00" y1="249.80" y2="405.20" stroke="#c8c8c8" stroke-width="0.8"/>
<line x1="275.30" x2="275.30" y1="249.80" y2="405.20" stroke="#c8c8c8" stroke-width="0.8"/>
<line x1="354.60" x2="354.60" y1="249.80" y2="405.20" stroke="#c8c8c8" stroke-width="0.8"/>
<line x1="433.90" x2="433.90" y1="249.80" y2="405.20" stroke="#c8c8c8" stroke-width="0.8"/>
<line x1="513.20" x2="513.20" y1="249.80" y2="405.20" stroke="#c8c8c8" stroke-width="0.8"/>
<line y1="405.20" y2="405.20" x1="37.40" x2="513.20" stroke="#d6d6d6" stroke-width="0.8"/>
<line y1="383.00" y2="383.00" x1="37.40" x2="513.20" stroke="#d6d6d6" stroke-width="0.8"/>
<line y1="360.80" y2="360.80" x1="37.40" x2="513.20" stroke="#d6d6d6" stroke-width="0.8"/>
<line y1="338.60" y2="338.60" x1="37.40" x2="513.20" stroke="#d6d6d6" stroke-width="0.8"/>
<line y1="316.40" y2="316.40" x1="37.40" x2="513.20" stroke="#d6d6d6" stroke-width="0.8"/>
<line y1="294.20" y2="294.20" x1="37.40" x2="513.20" stroke="#d6d6d6" stroke-width="0.8"/>
<line y1="272.00" y2="272.00" x1="37.40" x2="513.20" stroke="#d6d6d6" stroke-width="0.8"/>
<line y1="249.80" y2="249.80" x1="37.40" x2="513.20" stroke="#d6d6d6" stroke-width="0.8"/>
<polyline points="37.40,390.10 45.33,402.09 53.26,404.31 61.19,404.76 69.12,404.76 77.05,404.42 84.98,403.56 92.91,395.03 100.84,404.53 108.77,401.65 116.70,404.53 124.63,404.53 132.56,404.53 140.49,404.53 148.42,404.53 156.35,404.53 164.28,403.87 172.21,363.91 180.14,354.36 188.07,344.59 196.00,329.72 203.93,332.72 211.86,328.39 219.79,302.19 227.72,299.53 235.65,294.20 243.58,291.23 251.51,297.75 259.44,291.09 267.37,286.43" fill="none" stroke="#1a8a1a" stroke-width="1.2" stroke-linejoin="round" stroke-linecap="round"/>
<polyline points="37.40,385.44 45.33,385.22 53.26,384.33 61.19,387.88 69.12,388.66 77.05,392.19 84.98,394.10 92.91,395.99 100.84,399.21 108.77,398.81 116.70,400.14 124.63,400.76 132.56,401.27 140.49,402.98 148.42,403.20 156.35,403.20 164.28,403.65 172.21,403.20 180.14,394.54 188.07,376.34 196.00,335.49 203.93,311.58 211.86,305.97 219.79,299.97 227.72,297.97 235.65,294.42 243.58,297.97 251.51,298.42 259.44,297.53 267.37,293.09 275.30,296.86 283.23,290.43 291.16,295.00 299.09,294.75 307.02,291.36 314.95,295.98 322.88,295.31 330.81,292.51 338.74,294.75 346.67,288.87" fill="none" stroke="#1c1cf0" stroke-width="1.2" stroke-linejoin="round" stroke-linecap="round"/>
<polyline points="37.40,402.09 45.33,389.22 53.26,392.99 61.19,394.54 69.12,396.65 77.05,398.76 84.98,401.27 92.91,400.76 100.84,403.20 108.77,401.09 116.70,403.93 124.63,403.20 132.56,398.32 140.49,403.20 148.42,403.56 156.35,403.20 164.28,404.09 172.21,392.77 180.14,393.88 188.07,404.31 196.00,399.54 203.93,401.87 211.86,403.65 219.79,404.31 227.72,404.31 235.65,403.65 243.58,403.87 251.51,403.87 259.44,404.53 267.37,398.10 275.30,393.66 283.23,397.72 291.16,404.53 299.09,404.98 307.02,404.76 314.95,403.42 322.88,400.01 330.81,387.95 338.74,393.21 346.67,383.00 354.60,381.22 362.53,361.36 370.46,337.60 378.39,342.60 386.32,327.50 394.25,315.07 402.18,309.30 410.11,302.50 418.04,305.97 425.97,296.64 433.90,292.20 441.83,294.91 449.76,301.97 457.69,298.31 465.62,290.54 473.55,300.97 481.48,298.64 489.41,294.91 497.34,296.04 505.27,301.15" fill="none" stroke="#ee2222" stroke-width="1.2" stroke-linejoin="round" stroke-linecap="round"/>
<polyline points="37.40,350.59 45.33,314.18 53.26,305.74 61.19,299.31 69.12,298.20 77.05,293.20 84.98,290.54 92.91,287.54 100.84,288.21 108.77,284.65 116.70,283.99 124.63,280.50 132.56,279.33 140.49,277.86 148.42,277.66 156.35,274.89 164.28,273.78 172.21,273.89 180.14,273.11 188.07,269.89 196.00,270.45 203.93,270.09 211.86,268.89 219.79,265.45 227.72,266.89 235.65,265.45 243.58,264.54 251.51,262.28 259.44,263.12 267.37,261.79" fill="none" stroke="#1a8a1a" stroke-width="1.2" stroke-linejoin="round" stroke-linecap="round"/>
<circle cx="37.40" cy="350.59" r="1.8" fill="#0a7a0a" stroke="#064d06" stroke-width="0.7"/>
<circle cx="45.33" cy="314.18" r="1.8" fill="#0a7a0a" stroke="#064d06" stroke-width="0.7"/>
<circle cx="53.26" cy="305.74" r="1.8" fill="#0a7a0a" stroke="#064d06" stroke-width="0.7"/>
<circle cx="61.19" cy="299.31" r="1.8" fill="#0a7a0a" stroke="#064d06" stroke-width="0.7"/>
<circle cx="69.12" cy="298.20" r="1.8" fill="#0a7a0a" stroke="#064d06" stroke-width="0.7"/>
<circle cx="77.05" cy="293.20" r="1.8" fill="#0a7a0a" stroke="#064d06" stroke-width="0.7"/>
<circle cx="84.98" cy="290.54" r="1.8" fill="#0a7a0a" stroke="#064d06" stroke-width="0.7"/>
<circle cx="92.91" cy="287.54" r="1.8" fill="#0a7a0a" stroke="#064d06" stroke-width="0.7"/>
<circle cx="100.84" cy="288.21" r="1.8" fill="#0a7a0a" stroke="#064d06" stroke-width="0.7"/>
<circle cx="108.77" cy="284.65" r="1.8" fill="#0a7a0a" stroke="#064d06" stroke-width="0.7"/>
<circle cx="116.70" cy="283.99" r="1.8" fill="#0a7a0a" stroke="#064d06" stroke-width="0.7"/>
<circle cx="124.63" cy="280.50" r="1.8" fill="#0a7a0a" stroke="#064d06" stroke-width="0.7"/>
<circle cx="132.56" cy="279.33" r="1.8" fill="#0a7a0a" stroke="#064d06" stroke-width="0.7"/>
<circle cx="140.49" cy="277.86" r="1.8" fill="#0a7a0a" stroke="#064d06" stroke-width="0.7"/>
<circle cx="148.42" cy="277.66" r="1.8" fill="#0a7a0a" stroke="#064d06" stroke-width="0.7"/>
<circle cx="156.35" cy="274.89" r="1.8" fill="#0a7a0a" stroke="#064d06" stroke-width="0.7"/>
<circle cx="164.28" cy="273.78" r="1.8" fill="#0a7a0a" stroke="#064d06" stroke-width="0.7"/>
<circle cx="172.21" cy="273.89" r="1.8" fill="#0a7a0a" stroke="#064d06" stroke-width="0.7"/>
<circle cx="180.14" cy="273.11" r="1.8" fill="#0a7a0a" stroke="#064d06" stroke-width="0.7"/>
<circle cx="188.07" cy="269.89" r="1.8" fill="#0a7a0a" stroke="#064d06" stroke-width="0.7"/>
<circle cx="196.00" cy="270.45" r="1.8" fill="#0a7a0a" stroke="#064d06" stroke-width="0.7"/>
<circle cx="203.93" cy="270.09" r="1.8" fill="#0a7a0a" stroke="#064d06" stroke-width="0.7"/>
<circle cx="211.86" cy="268.89" r="1.8" fill="#0a7a0a" stroke="#064d06" stroke-width="0.7"/>
<circle cx="219.79" cy="265.45" r="1.8" fill="#0a7a0a" stroke="#064d06" stroke-width="0.7"/>
<circle cx="227.72" cy="266.89" r="1.8" fill="#0a7a0a" stroke="#064d06" stroke-width="0.7"/>
<circle cx="235.65" cy="265.45" r="1.8" fill="#0a7a0a" stroke="#064d06" stroke-width="0.7"/>
<circle cx="243.58" cy="264.54" r="1.8" fill="#0a7a0a" stroke="#064d06" stroke-width="0.7"/>
<circle cx="251.51" cy="262.28" r="1.8" fill="#0a7a0a" stroke="#064d06" stroke-width="0.7"/>
<circle cx="259.44" cy="263.12" r="1.8" fill="#0a7a0a" stroke="#064d06" stroke-width="0.7"/>
<circle cx="267.37" cy="261.79" r="1.8" fill="#0a7a0a" stroke="#064d06" stroke-width="0.7"/>
<polyline points="37.40,383.89 45.33,373.68 53.26,361.91 61.19,353.25 69.12,344.15 77.05,336.00 84.98,326.90 92.91,320.62 100.84,314.98 108.77,309.30 116.70,301.97 124.63,299.84 132.56,295.67 140.49,292.42 148.42,288.27 156.35,287.76 164.28,284.48 172.21,281.99 180.14,278.44 188.07,277.11 196.00,275.77 203.93,273.55 211.86,268.76 219.79,270.22 227.72,270.67 235.65,267.34 243.58,265.01 251.51,266.23 259.44,264.32 267.37,264.54 275.30,260.46 283.23,260.90 291.16,260.46 299.09,260.23 307.02,257.06 314.95,257.73 322.88,256.46 330.81,255.91 338.74,253.17 346.67,254.08" fill="none" stroke="#1c1cf0" stroke-width="1.2" stroke-linejoin="round" stroke-linecap="round"/>
<circle cx="37.40" cy="383.89" r="1.8" fill="#1010e8" stroke="#00007a" stroke-width="0.7"/>
<circle cx="45.33" cy="373.68" r="1.8" fill="#1010e8" stroke="#00007a" stroke-width="0.7"/>
<circle cx="53.26" cy="361.91" r="1.8" fill="#1010e8" stroke="#00007a" stroke-width="0.7"/>
<circle cx="61.19" cy="353.25" r="1.8" fill="#1010e8" stroke="#00007a" stroke-width="0.7"/>
<circle cx="69.12" cy="344.15" r="1.8" fill="#1010e8" stroke="#00007a" stroke-width="0.7"/>
<circle cx="77.05" cy="336.00" r="1.8" fill="#1010e8" stroke="#00007a" stroke-width="0.7"/>
<circle cx="84.98" cy="326.90" r="1.8" fill="#1010e8" stroke="#00007a" stroke-width="0.7"/>
<circle cx="92.91" cy="320.62" r="1.8" fill="#1010e8" stroke="#00007a" stroke-width="0.7"/>
<circle cx="100.84" cy="314.98" r="1.8" fill="#1010e8" stroke="#00007a" stroke-width="0.7"/>
<circle cx="108.77" cy="309.30" r="1.8" fill="#1010e8" stroke="#00007a" stroke-width="0.7"/>
<circle cx="116.70" cy="301.97" r="1.8" fill="#1010e8" stroke="#00007a" stroke-width="0.7"/>
<circle cx="124.63" cy="299.84" r="1.8" fill="#1010e8" stroke="#00007a" stroke-width="0.7"/>
<circle cx="132.56" cy="295.67" r="1.8" fill="#1010e8" stroke="#00007a" stroke-width="0.7"/>
<circle cx="140.49" cy="292.42" r="1.8" fill="#1010e8" stroke="#00007a" stroke-width="0.7"/>
<circle cx="148.42" cy="288.27" r="1.8" fill="#1010e8" stroke="#00007a" stroke-width="0.7"/>
<circle cx="156.35" cy="287.76" r="1.8" fill="#1010e8" stroke="#00007a" stroke-width="0.7"/>
<circle cx="164.28" cy="284.48" r="1.8" fill="#1010e8" stroke="#00007a" stroke-width="0.7"/>
<circle cx="172.21" cy="281.99" r="1.8" fill="#1010e8" stroke="#00007a" stroke-width="0.7"/>
<circle cx="180.14" cy="278.44" r="1.8" fill="#1010e8" stroke="#00007a" stroke-width="0.7"/>
<circle cx="188.07" cy="277.11" r="1.8" fill="#1010e8" stroke="#00007a" stroke-width="0.7"/>
<circle cx="196.00" cy="275.77" r="1.8" fill="#1010e8" stroke="#00007a" stroke-width="0.7"/>
<circle cx="203.93" cy="273.55" r="1.8" fill="#1010e8" stroke="#00007a" stroke-width="0.7"/>
<circle cx="211.86" cy="268.76" r="1.8" fill="#1010e8" stroke="#00007a" stroke-width="0.7"/>
<circle cx="219.79" cy="270.22" r="1.8" fill="#1010e8" stroke="#00007a" stroke-width="0.7"/>
<circle cx="227.72" cy="270.67" r="1.8" fill="#1010e8" stroke="#00007a" stroke-width="0.7"/>
<circle cx="235.65" cy="267.34" r="1.8" fill="#1010e8" stroke="#00007a" stroke-width="0.7"/>
<circle cx="243.58" cy="265.01" r="1.8" fill="#1010e8" stroke="#00007a" stroke-width="0.7"/>
<circle cx="251.51" cy="266.23" r="1.8" fill="#1010e8" stroke="#00007a" stroke-width="0.7"/>
<circle cx="259.44" cy="264.32" r="1.8" fill="#1010e8" stroke="#00007a" stroke-width="0.7"/>
<circle cx="267.37" cy="264.54" r="1.8" fill="#1010e8" stroke="#00007a" stroke-width="0.7"/>
<circle cx="275.30" cy="260.46" r="1.8" fill="#1010e8" stroke="#00007a" stroke-width="0.7"/>
<circle cx="283.23" cy="260.90" r="1.8" fill="#1010e8" stroke="#00007a" stroke-width="0.7"/>
<circle cx="291.16" cy="260.46" r="1.8" fill="#1010e8" stroke="#00007a" stroke-width="0.7"/>
<circle cx="299.09" cy="260.23" r="1.8" fill="#1010e8" stroke="#00007a" stroke-width="0.7"/>
<circle cx="307.02" cy="257.06" r="1.8" fill="#1010e8" stroke="#00007a" stroke-width="0.7"/>
<circle cx="314.95" cy="257.73" r="1.8" fill="#1010e8" stroke="#00007a" stroke-width="0.7"/>
<circle cx="322.88" cy="256.46" r="1.8" fill="#1010e8" stroke="#00007a" stroke-width="0.7"/>
<circle cx="330.81" cy="255.91" r="1.8" fill="#1010e8" stroke="#00007a" stroke-width="0.7"/>
<circle cx="338.74" cy="253.17" r="1.8" fill="#1010e8" stroke="#00007a" stroke-width="0.7"/>
<circle cx="346.67" cy="254.08" r="1.8" fill="#1010e8" stroke="#00007a" stroke-width="0.7"/>
<polyline points="37.40,381.67 45.33,358.58 53.26,336.00 61.19,321.95 69.12,314.18 77.05,307.74 84.98,303.97 92.91,300.86 100.84,297.37 108.77,295.87 116.70,294.33 124.63,292.16 132.56,288.87 140.49,290.54 148.42,286.76 156.35,286.65 164.28,284.88 172.21,283.54 180.14,281.99 188.07,280.66 196.00,279.77 203.93,279.55 211.86,279.41 219.79,276.44 227.72,275.69 235.65,275.91 243.58,276.13 251.51,273.86 259.44,273.18 267.37,272.73 275.30,272.00 283.23,271.11 291.16,269.11 299.09,268.89 307.02,269.11 314.95,268.23 322.88,267.78 330.81,267.23 338.74,266.61 346.67,265.01 354.60,265.23 362.53,264.10 370.46,263.63 378.39,265.01 386.32,263.12 394.25,262.68 402.18,263.41 410.11,262.01 418.04,261.57 425.97,261.79 433.90,260.68 441.83,260.81 449.76,260.06 457.69,257.57 465.62,258.35 473.55,258.01 481.48,258.01 489.41,257.79 497.34,257.57 505.27,257.01" fill="none" stroke="#ee2222" stroke-width="1.2" stroke-linejoin="round" stroke-linecap="round"/>
<circle cx="37.40" cy="381.67" r="1.8" fill="#f01010" stroke="#8a0000" stroke-width="0.7"/>
<circle cx="45.33" cy="358.58" r="1.8" fill="#f01010" stroke="#8a0000" stroke-width="0.7"/>
<circle cx="53.26" cy="336.00" r="1.8" fill="#f01010" stroke="#8a0000" stroke-width="0.7"/>
<circle cx="61.19" cy="321.95" r="1.8" fill="#f01010" stroke="#8a0000" stroke-width="0.7"/>
<circle cx="69.12" cy="314.18" r="1.8" fill="#f01010" stroke="#8a0000" stroke-width="0.7"/>
<circle cx="77.05" cy="307.74" r="1.8" fill="#f01010" stroke="#8a0000" stroke-width="0.7"/>
<circle cx="84.98" cy="303.97" r="1.8" fill="#f01010" stroke="#8a0000" stroke-width="0.7"/>
<circle cx="92.91" cy="300.86" r="1.8" fill="#f01010" stroke="#8a0000" stroke-width="0.7"/>
<circle cx="100.84" cy="297.37" r="1.8" fill="#f01010" stroke="#8a0000" stroke-width="0.7"/>
<circle cx="108.77" cy="295.87" r="1.8" fill="#f01010" stroke="#8a0000" stroke-width="0.7"/>
<circle cx="116.70" cy="294.33" r="1.8" fill="#f01010" stroke="#8a0000" stroke-width="0.7"/>
<circle cx="124.63" cy="292.16" r="1.8" fill="#f01010" stroke="#8a0000" stroke-width="0.7"/>
<circle cx="132.56" cy="288.87" r="1.8" fill="#f01010" stroke="#8a0000" stroke-width="0.7"/>
<circle cx="140.49" cy="290.54" r="1.8" fill="#f01010" stroke="#8a0000" stroke-width="0.7"/>
<circle cx="148.42" cy="286.76" r="1.8" fill="#f01010" stroke="#8a0000" stroke-width="0.7"/>
<circle cx="156.35" cy="286.65" r="1.8" fill="#f01010" stroke="#8a0000" stroke-width="0.7"/>
<circle cx="164.28" cy="284.88" r="1.8" fill="#f01010" stroke="#8a0000" stroke-width="0.7"/>
<circle cx="172.21" cy="283.54" r="1.8" fill="#f01010" stroke="#8a0000" stroke-width="0.7"/>
<circle cx="180.14" cy="281.99" r="1.8" fill="#f01010" stroke="#8a0000" stroke-width="0.7"/>
<circle cx="188.07" cy="280.66" r="1.8" fill="#f01010" stroke="#8a0000" stroke-width="0.7"/>
<circle cx="196.00" cy="279.77" r="1.8" fill="#f01010" stroke="#8a0000" stroke-width="0.7"/>
<circle cx="203.93" cy="279.55" r="1.8" fill="#f01010" stroke="#8a0000" stroke-width="0.7"/>
<circle cx="211.86" cy="279.41" r="1.8" fill="#f01010" stroke="#8a0000" stroke-width="0.7"/>
<circle cx="219.79" cy="276.44" r="1.8" fill="#f01010" stroke="#8a0000" stroke-width="0.7"/>
<circle cx="227.72" cy="275.69" r="1.8" fill="#f01010" stroke="#8a0000" stroke-width="0.7"/>
<circle cx="235.65" cy="275.91" r="1.8" fill="#f01010" stroke="#8a0000" stroke-width="0.7"/>
<circle cx="243.58" cy="276.13" r="1.8" fill="#f01010" stroke="#8a0000" stroke-width="0.7"/>
<circle cx="251.51" cy="273.86" r="1.8" fill="#f01010" stroke="#8a0000" stroke-width="0.7"/>
<circle cx="259.44" cy="273.18" r="1.8" fill="#f01010" stroke="#8a0000" stroke-width="0.7"/>
<circle cx="267.37" cy="272.73" r="1.8" fill="#f01010" stroke="#8a0000" stroke-width="0.7"/>
<circle cx="275.30" cy="272.00" r="1.8" fill="#f01010" stroke="#8a0000" stroke-width="0.7"/>
<circle cx="283.23" cy="271.11" r="1.8" fill="#f01010" stroke="#8a0000" stroke-width="0.7"/>
<circle cx="291.16" cy="269.11" r="1.8" fill="#f01010" stroke="#8a0000" stroke-width="0.7"/>
<circle cx="299.09" cy="268.89" r="1.8" fill="#f01010" stroke="#8a0000" stroke-width="0.7"/>
<circle cx="307.02" cy="269.11" r="1.8" fill="#f01010" stroke="#8a0000" stroke-width="0.7"/>
<circle cx="314.95" cy="268.23" r="1.8" fill="#f01010" stroke="#8a0000" stroke-width="0.7"/>
<circle cx="322.88" cy="267.78" r="1.8" fill="#f01010" stroke="#8a0000" stroke-width="0.7"/>
<circle cx="330.81" cy="267.23" r="1.8" fill="#f01010" stroke="#8a0000" stroke-width="0.7"/>
<circle cx="338.74" cy="266.61" r="1.8" fill="#f01010" stroke="#8a0000" stroke-width="0.7"/>
<circle cx="346.67" cy="265.01" r="1.8" fill="#f01010" stroke="#8a0000" stroke-width="0.7"/>
<circle cx="354.60" cy="265.23" r="1.8" fill="#f01010" stroke="#8a0000" stroke-width="0.7"/>
<circle cx="362.53" cy="264.10" r="1.8" fill="#f01010" stroke="#8a0000" stroke-width="0.7"/>
<circle cx="370.46" cy="263.63" r="1.8" fill="#f01010" stroke="#8a0000" stroke-width="0.7"/>
<circle cx="378.39" cy="265.01" r="1.8" fill="#f01010" stroke="#8a0000" stroke-width="0.7"/>
<circle cx="386.32" cy="263.12" r="1.8" fill="#f01010" stroke="#8a0000" stroke-width="0.7"/>
<circle cx="394.25" cy="262.68" r="1.8" fill="#f01010" stroke="#8a0000" stroke-width="0.7"/>
<circle cx="402.18" cy="263.41" r="1.8" fill="#f01010" stroke="#8a0000" stroke-width="0.7"/>
<circle cx="410.11" cy="262.01" r="1.8" fill="#f01010" stroke="#8a0000" stroke-width="0.7"/>
<circle cx="418.04" cy="261.57" r="1.8" fill="#f01010" stroke="#8a0000" stroke-width="0.7"/>
<circle cx="425.97" cy="261.79" r="1.8" fill="#f01010" stroke="#8a0000" stroke-width="0.7"/>
<circle cx="433.90" cy="260.68" r="1.8" fill="#f01010" stroke="#8a0000" stroke-width="0.7"/>
<circle cx="441.83" cy="260.81" r="1.8" fill="#f01010" stroke="#8a0000" stroke-width="0.7"/>
<circle cx="449.76" cy="260.06" r="1.8" fill="#f01010" stroke="#8a0000" stroke-width="0.7"/>
<circle cx="457.69" cy="257.57" r="1.8" fill="#f01010" stroke="#8a0000" stroke-width="0.7"/>
<circle cx="465.62" cy="258.35" r="1.8" fill="#f01010" stroke="#8a0000" stroke-width="0.7"/>
<circle cx="473.55" cy="258.01" r="1.8" fill="#f01010" stroke="#8a0000" stroke-width="0.7"/>
<circle cx="481.48" cy="258.01" r="1.8" fill="#f01010" stroke="#8a0000" stroke-width="0.7"/>
<circle cx="489.41" cy="257.79" r="1.8" fill="#f01010" stroke="#8a0000" stroke-width="0.7"/>
<circle cx="497.34" cy="257.57" r="1.8" fill="#f01010" stroke="#8a0000" stroke-width="0.7"/>
<circle cx="505.27" cy="257.01" r="1.8" fill="#f01010" stroke="#8a0000" stroke-width="0.7"/>
<line x1="37.40" x2="37.40" y1="405.20" y2="402.20" stroke="#222" stroke-width="0.8"/>
<line x1="37.40" x2="37.40" y1="249.80" y2="252.80" stroke="#222" stroke-width="0.8"/>
<text x="37.40" y="415.80" text-anchor="middle" class="t2">0</text>
<line x1="116.70" x2="116.70" y1="405.20" y2="402.20" stroke="#222" stroke-width="0.8"/>
<line x1="116.70" x2="116.70" y1="249.80" y2="252.80" stroke="#222" stroke-width="0.8"/>
<text x="116.70" y="415.80" text-anchor="middle" class="t2">10</text>
<line x1="196.00" x2="196.00" y1="405.20" y2="402.20" stroke="#222" stroke-width="0.8"/>
<line x1="196.00" x2="196.00" y1="249.80" y2="252.80" stroke="#222" stroke-width="0.8"/>
<text x="196.00" y="415.80" text-anchor="middle" class="t2">20</text>
<line x1="275.30" x2="275.30" y1="405.20" y2="402.20" stroke="#222" stroke-width="0.8"/>
<line x1="275.30" x2="275.30" y1="249.80" y2="252.80" stroke="#222" stroke-width="0.8"/>
<text x="275.30" y="415.80" text-anchor="middle" class="t2">30</text>
<line x1="354.60" x2="354.60" y1="405.20" y2="402.20" stroke="#222" stroke-width="0.8"/>
<line x1="354.60" x2="354.60" y1="249.80" y2="252.80" stroke="#222" stroke-width="0.8"/>
<text x="354.60" y="415.80" text-anchor="middle" class="t2">40</text>
<line x1="433.90" x2="433.90" y1="405.20" y2="402.20" stroke="#222" stroke-width="0.8"/>
<line x1="433.90" x2="433.90" y1="249.80" y2="252.80" stroke="#222" stroke-width="0.8"/>
<text x="433.90" y="415.80" text-anchor="middle" class="t2">50</text>
<line x1="513.20" x2="513.20" y1="405.20" y2="402.20" stroke="#222" stroke-width="0.8"/>
<line x1="513.20" x2="513.20" y1="249.80" y2="252.80" stroke="#222" stroke-width="0.8"/>
<text x="513.20" y="415.80" text-anchor="middle" class="t2">60</text>
<line x1="77.05" x2="77.05" y1="405.20" y2="403.40" stroke="#222" stroke-width="0.7"/>
<line x1="77.05" x2="77.05" y1="249.80" y2="251.60" stroke="#222" stroke-width="0.7"/>
<line x1="156.35" x2="156.35" y1="405.20" y2="403.40" stroke="#222" stroke-width="0.7"/>
<line x1="156.35" x2="156.35" y1="249.80" y2="251.60" stroke="#222" stroke-width="0.7"/>
<line x1="235.65" x2="235.65" y1="405.20" y2="403.40" stroke="#222" stroke-width="0.7"/>
<line x1="235.65" x2="235.65" y1="249.80" y2="251.60" stroke="#222" stroke-width="0.7"/>
<line x1="314.95" x2="314.95" y1="405.20" y2="403.40" stroke="#222" stroke-width="0.7"/>
<line x1="314.95" x2="314.95" y1="249.80" y2="251.60" stroke="#222" stroke-width="0.7"/>
<line x1="394.25" x2="394.25" y1="405.20" y2="403.40" stroke="#222" stroke-width="0.7"/>
<line x1="394.25" x2="394.25" y1="249.80" y2="251.60" stroke="#222" stroke-width="0.7"/>
<line x1="473.55" x2="473.55" y1="405.20" y2="403.40" stroke="#222" stroke-width="0.7"/>
<line x1="473.55" x2="473.55" y1="249.80" y2="251.60" stroke="#222" stroke-width="0.7"/>
<line y1="405.20" y2="405.20" x1="37.40" x2="40.40" stroke="#222" stroke-width="0.8"/>
<line y1="405.20" y2="405.20" x1="513.20" x2="510.20" stroke="#222" stroke-width="0.8"/>
<text x="34.70" y="408.30" text-anchor="end" class="t2">0</text>
<line y1="383.00" y2="383.00" x1="37.40" x2="40.40" stroke="#222" stroke-width="0.8"/>
<line y1="383.00" y2="383.00" x1="513.20" x2="510.20" stroke="#222" stroke-width="0.8"/>
<text x="34.70" y="386.10" text-anchor="end" class="t2">0.1</text>
<line y1="360.80" y2="360.80" x1="37.40" x2="40.40" stroke="#222" stroke-width="0.8"/>
<line y1="360.80" y2="360.80" x1="513.20" x2="510.20" stroke="#222" stroke-width="0.8"/>
<text x="34.70" y="363.90" text-anchor="end" class="t2">0.2</text>
<line y1="338.60" y2="338.60" x1="37.40" x2="40.40" stroke="#222" stroke-width="0.8"/>
<line y1="338.60" y2="338.60" x1="513.20" x2="510.20" stroke="#222" stroke-width="0.8"/>
<text x="34.70" y="341.70" text-anchor="end" class="t2">0.3</text>
<line y1="316.40" y2="316.40" x1="37.40" x2="40.40" stroke="#222" stroke-width="0.8"/>
<line y1="316.40" y2="316.40" x1="513.20" x2="510.20" stroke="#222" stroke-width="0.8"/>
<text x="34.70" y="319.50" text-anchor="end" class="t2">0.4</text>
<line y1="294.20" y2="294.20" x1="37.40" x2="40.40" stroke="#222" stroke-width="0.8"/>
<line y1="294.20" y2="294.20" x1="513.20" x2="510.20" stroke="#222" stroke-width="0.8"/>
<text x="34.70" y="297.30" text-anchor="end" class="t2">0.5</text>
<line y1="272.00" y2="272.00" x1="37.40" x2="40.40" stroke="#222" stroke-width="0.8"/>
<line y1="272.00" y2="272.00" x1="513.20" x2="510.20" stroke="#222" stroke-width="0.8"/>
<text x="34.70" y="275.10" text-anchor="end" class="t2">0.6</text>
<line y1="249.80" y2="249.80" x1="37.40" x2="40.40" stroke="#222" stroke-width="0.8"/>
<line y1="249.80" y2="249.80" x1="513.20" x2="510.20" stroke="#222" stroke-width="0.8"/>
<text x="34.70" y="252.90" text-anchor="end" class="t2">0.7</text>
<line y1="394.10" y2="394.10" x1="37.40" x2="39.20" stroke="#222" stroke-width="0.7"/>
<line y1="394.10" y2="394.10" x1="513.20" x2="511.40" stroke="#222" stroke-width="0.7"/>
<line y1="371.90" y2="371.90" x1="37.40" x2="39.20" stroke="#222" stroke-width="0.7"/>
<line y1="371.90" y2="371.90" x1="513.20" x2="511.40" stroke="#222" stroke-width="0.7"/>
<line y1="349.70" y2="349.70" x1="37.40" x2="39.20" stroke="#222" stroke-width="0.7"/>
<line y1="349.70" y2="349.70" x1="513.20" x2="511.40" stroke="#222" stroke-width="0.7"/>
<line y1="327.50" y2="327.50" x1="37.40" x2="39.20" stroke="#222" stroke-width="0.7"/>
<line y1="327.50" y2="327.50" x1="513.20" x2="511.40" stroke="#222" stroke-width="0.7"/>
<line y1="305.30" y2="305.30" x1="37.40" x2="39.20" stroke="#222" stroke-width="0.7"/>
<line y1="305.30" y2="305.30" x1="513.20" x2="511.40" stroke="#222" stroke-width="0.7"/>
<line y1="283.10" y2="283.10" x1="37.40" x2="39.20" stroke="#222" stroke-width="0.7"/>
<line y1="283.10" y2="283.10" x1="513.20" x2="511.40" stroke="#222" stroke-width="0.7"/>
<line y1="260.90" y2="260.90" x1="37.40" x2="39.20" stroke="#222" stroke-width="0.7"/>
<line y1="260.90" y2="260.90" x1="513.20" x2="511.40" stroke="#222" stroke-width="0.7"/>
<rect x="37.40" y="249.80" width="475.80" height="155.40" fill="none" stroke="#222" stroke-width="1.3"/>
<rect x="388" y="333" width="120" height="65" fill="#fff"/>
<line x1="393.2" x2="401.6" y1="339.90" y2="339.90" stroke="#ee2222" stroke-width="1.2"/>
<text x="412.6" y="342.60" class="b" style="font-size:9.0px">Adamax</text>
<line x1="393.2" x2="401.6" y1="350.05" y2="350.05" stroke="#1c1cf0" stroke-width="1.2"/>
<text x="412.6" y="352.75" class="b" style="font-size:9.0px">Adam</text>
<line x1="393.2" x2="401.6" y1="360.20" y2="360.20" stroke="#1a8a1a" stroke-width="1.2"/>
<text x="412.6" y="362.90" class="b" style="font-size:9.0px">Rmsprop</text>
<line x1="393.2" x2="401.6" y1="370.35" y2="370.35" stroke="#ee2222" stroke-width="1.2"/>
<circle cx="397.40" cy="370.35" r="1.8" fill="#f01010" stroke="#8a0000" stroke-width="0.7"/>
<text x="412.6" y="373.05" class="b" style="font-size:9.0px">Training IoU Adamax</text>
<line x1="393.2" x2="401.6" y1="380.50" y2="380.50" stroke="#1c1cf0" stroke-width="1.2"/>
<circle cx="397.40" cy="380.50" r="1.8" fill="#1010e8" stroke="#00007a" stroke-width="0.7"/>
<text x="412.6" y="383.20" class="b" style="font-size:9.0px">Training IoU Adam</text>
<line x1="393.2" x2="401.6" y1="390.65" y2="390.65" stroke="#1a8a1a" stroke-width="1.2"/>
<circle cx="397.40" cy="390.65" r="1.8" fill="#0a7a0a" stroke="#064d06" stroke-width="0.7"/>
<text x="412.6" y="393.35" class="b" style="font-size:9.0px">Training IoU RMSprop</text>
<text x="275.2" y="428.4" text-anchor="middle" class="b2">Epochs</text>
<text transform="translate(17.4,327.4) rotate(-90)" text-anchor="middle" class="b2">Val IoU</text>
<text x="7.9" y="252.9" class="b" style="font-size:10px">(c)</text>
<rect x="37.40" y="429.80" width="475.80" height="100.50" fill="#fff"/>
<line x1="61.19" x2="61.19" y1="429.80" y2="530.30" stroke="#eeeeee" stroke-width="0.7"/>
<line x1="84.98" x2="84.98" y1="429.80" y2="530.30" stroke="#eeeeee" stroke-width="0.7"/>
<line x1="108.77" x2="108.77" y1="429.80" y2="530.30" stroke="#eeeeee" stroke-width="0.7"/>
<line x1="132.56" x2="132.56" y1="429.80" y2="530.30" stroke="#eeeeee" stroke-width="0.7"/>
<line x1="180.14" x2="180.14" y1="429.80" y2="530.30" stroke="#eeeeee" stroke-width="0.7"/>
<line x1="203.93" x2="203.93" y1="429.80" y2="530.30" stroke="#eeeeee" stroke-width="0.7"/>
<line x1="227.72" x2="227.72" y1="429.80" y2="530.30" stroke="#eeeeee" stroke-width="0.7"/>
<line x1="251.51" x2="251.51" y1="429.80" y2="530.30" stroke="#eeeeee" stroke-width="0.7"/>
<line x1="299.09" x2="299.09" y1="429.80" y2="530.30" stroke="#eeeeee" stroke-width="0.7"/>
<line x1="322.88" x2="322.88" y1="429.80" y2="530.30" stroke="#eeeeee" stroke-width="0.7"/>
<line x1="346.67" x2="346.67" y1="429.80" y2="530.30" stroke="#eeeeee" stroke-width="0.7"/>
<line x1="370.46" x2="370.46" y1="429.80" y2="530.30" stroke="#eeeeee" stroke-width="0.7"/>
<line x1="418.04" x2="418.04" y1="429.80" y2="530.30" stroke="#eeeeee" stroke-width="0.7"/>
<line x1="441.83" x2="441.83" y1="429.80" y2="530.30" stroke="#eeeeee" stroke-width="0.7"/>
<line x1="465.62" x2="465.62" y1="429.80" y2="530.30" stroke="#eeeeee" stroke-width="0.7"/>
<line x1="489.41" x2="489.41" y1="429.80" y2="530.30" stroke="#eeeeee" stroke-width="0.7"/>
<line y1="525.27" y2="525.27" x1="37.40" x2="513.20" stroke="#eeeeee" stroke-width="0.7"/>
<line y1="520.25" y2="520.25" x1="37.40" x2="513.20" stroke="#eeeeee" stroke-width="0.7"/>
<line y1="515.22" y2="515.22" x1="37.40" x2="513.20" stroke="#eeeeee" stroke-width="0.7"/>
<line y1="505.17" y2="505.17" x1="37.40" x2="513.20" stroke="#eeeeee" stroke-width="0.7"/>
<line y1="500.15" y2="500.15" x1="37.40" x2="513.20" stroke="#eeeeee" stroke-width="0.7"/>
<line y1="495.12" y2="495.12" x1="37.40" x2="513.20" stroke="#eeeeee" stroke-width="0.7"/>
<line y1="485.07" y2="485.07" x1="37.40" x2="513.20" stroke="#eeeeee" stroke-width="0.7"/>
<line y1="480.05" y2="480.05" x1="37.40" x2="513.20" stroke="#eeeeee" stroke-width="0.7"/>
<line y1="475.02" y2="475.02" x1="37.40" x2="513.20" stroke="#eeeeee" stroke-width="0.7"/>
<line y1="464.98" y2="464.98" x1="37.40" x2="513.20" stroke="#eeeeee" stroke-width="0.7"/>
<line y1="459.95" y2="459.95" x1="37.40" x2="513.20" stroke="#eeeeee" stroke-width="0.7"/>
<line y1="454.93" y2="454.93" x1="37.40" x2="513.20" stroke="#eeeeee" stroke-width="0.7"/>
<line y1="444.88" y2="444.88" x1="37.40" x2="513.20" stroke="#eeeeee" stroke-width="0.7"/>
<line y1="439.85" y2="439.85" x1="37.40" x2="513.20" stroke="#eeeeee" stroke-width="0.7"/>
<line y1="434.83" y2="434.83" x1="37.40" x2="513.20" stroke="#eeeeee" stroke-width="0.7"/>
<line x1="37.40" x2="37.40" y1="429.80" y2="530.30" stroke="#c8c8c8" stroke-width="0.8"/>
<line x1="156.35" x2="156.35" y1="429.80" y2="530.30" stroke="#c8c8c8" stroke-width="0.8"/>
<line x1="275.30" x2="275.30" y1="429.80" y2="530.30" stroke="#c8c8c8" stroke-width="0.8"/>
<line x1="394.25" x2="394.25" y1="429.80" y2="530.30" stroke="#c8c8c8" stroke-width="0.8"/>
<line x1="513.20" x2="513.20" y1="429.80" y2="530.30" stroke="#c8c8c8" stroke-width="0.8"/>
<line y1="530.30" y2="530.30" x1="37.40" x2="513.20" stroke="#d6d6d6" stroke-width="0.8"/>
<line y1="510.20" y2="510.20" x1="37.40" x2="513.20" stroke="#d6d6d6" stroke-width="0.8"/>
<line y1="490.10" y2="490.10" x1="37.40" x2="513.20" stroke="#d6d6d6" stroke-width="0.8"/>
<line y1="470.00" y2="470.00" x1="37.40" x2="513.20" stroke="#d6d6d6" stroke-width="0.8"/>
<line y1="449.90" y2="449.90" x1="37.40" x2="513.20" stroke="#d6d6d6" stroke-width="0.8"/>
<line y1="429.80" y2="429.80" x1="37.40" x2="513.20" stroke="#d6d6d6" stroke-width="0.8"/>
<polyline points="45.06,505.98 52.22,479.35 59.38,504.87 66.54,515.73 73.70,514.22 80.86,528.19 88.03,509.70 95.19,517.34 102.35,510.10 109.51,492.41 116.67,522.16 123.83,494.52 130.99,463.37 138.15,442.26 145.31,511.10 152.47,528.79 159.63,527.28 166.79,506.98 173.95,445.38 181.12,473.82 188.28,522.56 195.44,493.11 202.60,510.10 209.76,513.21 216.92,505.48 224.08,504.47 231.24,468.59 238.40,460.25 245.56,498.14 252.72,481.06 259.88,487.89 267.04,495.53 274.21,476.23 281.37,488.29 288.53,520.45 295.69,517.74 302.85,493.11 310.01,465.88 317.17,495.53 324.33,503.27 331.49,495.53 338.65,502.86 345.81,503.47 352.97,467.19 360.14,512.21 367.30,512.81 374.46,470.00 381.62,527.08" fill="none" stroke="#1a8a1a" stroke-width="1.3" stroke-linejoin="round" stroke-linecap="round"/>
<polyline points="45.06,507.99 52.22,495.12 59.38,493.11 66.54,503.27 73.70,495.93 80.86,494.12 88.03,498.24 95.19,488.09 102.35,500.75 109.51,494.52 116.67,485.38 123.83,498.84 130.99,499.14 138.15,499.35 145.31,497.03 152.47,498.64 159.63,505.28 166.79,490.80 173.95,498.64 181.12,492.41 188.28,487.69 195.44,504.47 202.60,489.30 209.76,498.64 216.92,501.76 224.08,488.29 231.24,503.87 238.40,494.12 245.56,496.23 252.72,498.14 259.88,483.06 267.04,500.75 274.21,491.00 281.37,488.29 288.53,503.47 295.69,489.30 302.85,499.75 310.01,500.35 317.17,488.69 324.33,498.64 331.49,501.76 338.65,484.17 345.81,499.35 352.97,493.92" fill="none" stroke="#ee2222" stroke-width="1.3" stroke-linejoin="round" stroke-linecap="round"/>
<polyline points="45.06,494.92 52.22,498.24 59.38,501.36 66.54,492.01 73.70,504.87 80.86,496.63 88.03,492.91 95.19,494.12 102.35,500.75 109.51,490.40 116.67,497.03 123.83,491.41 130.99,485.58 138.15,496.63 145.31,503.27 152.47,491.41 159.63,496.63 166.79,506.98 173.95,488.69 181.12,498.14 188.28,498.14 195.44,484.17 202.60,490.00 209.76,500.75 216.92,498.64 224.08,489.80 231.24,494.92 238.40,492.41 245.56,491.00 252.72,503.87 259.88,494.12 267.04,486.18 274.21,509.09 281.37,501.76 288.53,487.89 295.69,503.27 302.85,499.14 310.01,482.06 317.17,500.75 324.33,502.86 331.49,489.80 338.65,498.64 345.81,510.10 352.97,490.00 360.14,497.24 367.30,498.64 374.46,490.40 381.62,493.92 388.78,505.98 395.94,495.12 403.10,485.78 410.26,501.76 417.42,492.41 424.58,489.80 431.74,503.47 438.90,500.15 446.06,484.77 453.23,502.86 460.39,503.87" fill="none" stroke="#1c1cf0" stroke-width="1.3" stroke-linejoin="round" stroke-linecap="round"/>
<line x1="37.40" x2="37.40" y1="530.30" y2="527.30" stroke="#222" stroke-width="0.8"/>
<line x1="37.40" x2="37.40" y1="429.80" y2="432.80" stroke="#222" stroke-width="0.8"/>
<text x="37.40" y="540.90" text-anchor="middle" class="t2">0</text>
<line x1="156.35" x2="156.35" y1="530.30" y2="527.30" stroke="#222" stroke-width="0.8"/>
<line x1="156.35" x2="156.35" y1="429.80" y2="432.80" stroke="#222" stroke-width="0.8"/>
<text x="156.35" y="540.90" text-anchor="middle" class="t2">500</text>
<line x1="275.30" x2="275.30" y1="530.30" y2="527.30" stroke="#222" stroke-width="0.8"/>
<line x1="275.30" x2="275.30" y1="429.80" y2="432.80" stroke="#222" stroke-width="0.8"/>
<line x1="394.25" x2="394.25" y1="530.30" y2="527.30" stroke="#222" stroke-width="0.8"/>
<line x1="394.25" x2="394.25" y1="429.80" y2="432.80" stroke="#222" stroke-width="0.8"/>
<text x="394.25" y="540.90" text-anchor="middle" class="t2">1500</text>
<line x1="513.20" x2="513.20" y1="530.30" y2="527.30" stroke="#222" stroke-width="0.8"/>
<line x1="513.20" x2="513.20" y1="429.80" y2="432.80" stroke="#222" stroke-width="0.8"/>
<text x="513.20" y="540.90" text-anchor="middle" class="t2">2000</text>
<line x1="61.19" x2="61.19" y1="530.30" y2="528.50" stroke="#222" stroke-width="0.7"/>
<line x1="61.19" x2="61.19" y1="429.80" y2="431.60" stroke="#222" stroke-width="0.7"/>
<line x1="84.98" x2="84.98" y1="530.30" y2="528.50" stroke="#222" stroke-width="0.7"/>
<line x1="84.98" x2="84.98" y1="429.80" y2="431.60" stroke="#222" stroke-width="0.7"/>
<line x1="108.77" x2="108.77" y1="530.30" y2="528.50" stroke="#222" stroke-width="0.7"/>
<line x1="108.77" x2="108.77" y1="429.80" y2="431.60" stroke="#222" stroke-width="0.7"/>
<line x1="132.56" x2="132.56" y1="530.30" y2="528.50" stroke="#222" stroke-width="0.7"/>
<line x1="132.56" x2="132.56" y1="429.80" y2="431.60" stroke="#222" stroke-width="0.7"/>
<line x1="180.14" x2="180.14" y1="530.30" y2="528.50" stroke="#222" stroke-width="0.7"/>
<line x1="180.14" x2="180.14" y1="429.80" y2="431.60" stroke="#222" stroke-width="0.7"/>
<line x1="203.93" x2="203.93" y1="530.30" y2="528.50" stroke="#222" stroke-width="0.7"/>
<line x1="203.93" x2="203.93" y1="429.80" y2="431.60" stroke="#222" stroke-width="0.7"/>
<line x1="227.72" x2="227.72" y1="530.30" y2="528.50" stroke="#222" stroke-width="0.7"/>
<line x1="227.72" x2="227.72" y1="429.80" y2="431.60" stroke="#222" stroke-width="0.7"/>
<line x1="251.51" x2="251.51" y1="530.30" y2="528.50" stroke="#222" stroke-width="0.7"/>
<line x1="251.51" x2="251.51" y1="429.80" y2="431.60" stroke="#222" stroke-width="0.7"/>
<line x1="299.09" x2="299.09" y1="530.30" y2="528.50" stroke="#222" stroke-width="0.7"/>
<line x1="299.09" x2="299.09" y1="429.80" y2="431.60" stroke="#222" stroke-width="0.7"/>
<line x1="322.88" x2="322.88" y1="530.30" y2="528.50" stroke="#222" stroke-width="0.7"/>
<line x1="322.88" x2="322.88" y1="429.80" y2="431.60" stroke="#222" stroke-width="0.7"/>
<line x1="346.67" x2="346.67" y1="530.30" y2="528.50" stroke="#222" stroke-width="0.7"/>
<line x1="346.67" x2="346.67" y1="429.80" y2="431.60" stroke="#222" stroke-width="0.7"/>
<line x1="370.46" x2="370.46" y1="530.30" y2="528.50" stroke="#222" stroke-width="0.7"/>
<line x1="370.46" x2="370.46" y1="429.80" y2="431.60" stroke="#222" stroke-width="0.7"/>
<line x1="418.04" x2="418.04" y1="530.30" y2="528.50" stroke="#222" stroke-width="0.7"/>
<line x1="418.04" x2="418.04" y1="429.80" y2="431.60" stroke="#222" stroke-width="0.7"/>
<line x1="441.83" x2="441.83" y1="530.30" y2="528.50" stroke="#222" stroke-width="0.7"/>
<line x1="441.83" x2="441.83" y1="429.80" y2="431.60" stroke="#222" stroke-width="0.7"/>
<line x1="465.62" x2="465.62" y1="530.30" y2="528.50" stroke="#222" stroke-width="0.7"/>
<line x1="465.62" x2="465.62" y1="429.80" y2="431.60" stroke="#222" stroke-width="0.7"/>
<line x1="489.41" x2="489.41" y1="530.30" y2="528.50" stroke="#222" stroke-width="0.7"/>
<line x1="489.41" x2="489.41" y1="429.80" y2="431.60" stroke="#222" stroke-width="0.7"/>
<line y1="530.30" y2="530.30" x1="37.40" x2="40.40" stroke="#222" stroke-width="0.8"/>
<line y1="530.30" y2="530.30" x1="513.20" x2="510.20" stroke="#222" stroke-width="0.8"/>
<line y1="510.20" y2="510.20" x1="37.40" x2="40.40" stroke="#222" stroke-width="0.8"/>
<line y1="510.20" y2="510.20" x1="513.20" x2="510.20" stroke="#222" stroke-width="0.8"/>
<text x="34.70" y="513.30" text-anchor="end" class="t2">20</text>
<line y1="490.10" y2="490.10" x1="37.40" x2="40.40" stroke="#222" stroke-width="0.8"/>
<line y1="490.10" y2="490.10" x1="513.20" x2="510.20" stroke="#222" stroke-width="0.8"/>
<text x="34.70" y="493.20" text-anchor="end" class="t2">40</text>
<line y1="470.00" y2="470.00" x1="37.40" x2="40.40" stroke="#222" stroke-width="0.8"/>
<line y1="470.00" y2="470.00" x1="513.20" x2="510.20" stroke="#222" stroke-width="0.8"/>
<text x="34.70" y="473.10" text-anchor="end" class="t2">60</text>
<line y1="449.90" y2="449.90" x1="37.40" x2="40.40" stroke="#222" stroke-width="0.8"/>
<line y1="449.90" y2="449.90" x1="513.20" x2="510.20" stroke="#222" stroke-width="0.8"/>
<text x="34.70" y="453.00" text-anchor="end" class="t2">80</text>
<line y1="429.80" y2="429.80" x1="37.40" x2="40.40" stroke="#222" stroke-width="0.8"/>
<line y1="429.80" y2="429.80" x1="513.20" x2="510.20" stroke="#222" stroke-width="0.8"/>
<text x="34.70" y="432.90" text-anchor="end" class="t2">100</text>
<line y1="525.27" y2="525.27" x1="37.40" x2="39.20" stroke="#222" stroke-width="0.7"/>
<line y1="525.27" y2="525.27" x1="513.20" x2="511.40" stroke="#222" stroke-width="0.7"/>
<line y1="520.25" y2="520.25" x1="37.40" x2="39.20" stroke="#222" stroke-width="0.7"/>
<line y1="520.25" y2="520.25" x1="513.20" x2="511.40" stroke="#222" stroke-width="0.7"/>
<line y1="515.22" y2="515.22" x1="37.40" x2="39.20" stroke="#222" stroke-width="0.7"/>
<line y1="515.22" y2="515.22" x1="513.20" x2="511.40" stroke="#222" stroke-width="0.7"/>
<line y1="505.17" y2="505.17" x1="37.40" x2="39.20" stroke="#222" stroke-width="0.7"/>
<line y1="505.17" y2="505.17" x1="513.20" x2="511.40" stroke="#222" stroke-width="0.7"/>
<line y1="500.15" y2="500.15" x1="37.40" x2="39.20" stroke="#222" stroke-width="0.7"/>
<line y1="500.15" y2="500.15" x1="513.20" x2="511.40" stroke="#222" stroke-width="0.7"/>
<line y1="495.12" y2="495.12" x1="37.40" x2="39.20" stroke="#222" stroke-width="0.7"/>
<line y1="495.12" y2="495.12" x1="513.20" x2="511.40" stroke="#222" stroke-width="0.7"/>
<line y1="485.07" y2="485.07" x1="37.40" x2="39.20" stroke="#222" stroke-width="0.7"/>
<line y1="485.07" y2="485.07" x1="513.20" x2="511.40" stroke="#222" stroke-width="0.7"/>
<line y1="480.05" y2="480.05" x1="37.40" x2="39.20" stroke="#222" stroke-width="0.7"/>
<line y1="480.05" y2="480.05" x1="513.20" x2="511.40" stroke="#222" stroke-width="0.7"/>
<line y1="475.02" y2="475.02" x1="37.40" x2="39.20" stroke="#222" stroke-width="0.7"/>
<line y1="475.02" y2="475.02" x1="513.20" x2="511.40" stroke="#222" stroke-width="0.7"/>
<line y1="464.98" y2="464.98" x1="37.40" x2="39.20" stroke="#222" stroke-width="0.7"/>
<line y1="464.98" y2="464.98" x1="513.20" x2="511.40" stroke="#222" stroke-width="0.7"/>
<line y1="459.95" y2="459.95" x1="37.40" x2="39.20" stroke="#222" stroke-width="0.7"/>
<line y1="459.95" y2="459.95" x1="513.20" x2="511.40" stroke="#222" stroke-width="0.7"/>
<line y1="454.93" y2="454.93" x1="37.40" x2="39.20" stroke="#222" stroke-width="0.7"/>
<line y1="454.93" y2="454.93" x1="513.20" x2="511.40" stroke="#222" stroke-width="0.7"/>
<line y1="444.88" y2="444.88" x1="37.40" x2="39.20" stroke="#222" stroke-width="0.7"/>
<line y1="444.88" y2="444.88" x1="513.20" x2="511.40" stroke="#222" stroke-width="0.7"/>
<line y1="439.85" y2="439.85" x1="37.40" x2="39.20" stroke="#222" stroke-width="0.7"/>
<line y1="439.85" y2="439.85" x1="513.20" x2="511.40" stroke="#222" stroke-width="0.7"/>
<line y1="434.83" y2="434.83" x1="37.40" x2="39.20" stroke="#222" stroke-width="0.7"/>
<line y1="434.83" y2="434.83" x1="513.20" x2="511.40" stroke="#222" stroke-width="0.7"/>
<rect x="37.40" y="429.80" width="475.80" height="100.50" fill="none" stroke="#222" stroke-width="1.3"/>
<rect x="443" y="439" width="64" height="33" fill="#fff"/>
<line x1="447.8" x2="457" y1="445.40" y2="445.40" stroke="#ee2222" stroke-width="1.2"/>
<text x="467.5" y="448.10" class="b" style="font-size:8.9px">Adamax</text>
<line x1="447.8" x2="457" y1="455.50" y2="455.50" stroke="#1c1cf0" stroke-width="1.2"/>
<text x="467.5" y="458.20" class="b" style="font-size:8.9px">Adam</text>
<line x1="447.8" x2="457" y1="465.60" y2="465.60" stroke="#1a8a1a" stroke-width="1.2"/>
<text x="467.5" y="468.30" class="b" style="font-size:8.9px">Rmsprop</text>
<text x="275.6" y="541.2" text-anchor="middle" class="b2">Time (sec)</text>
<text transform="translate(14.6,479.5) rotate(-90)" text-anchor="middle" class="b2">GPU Power Usage (%)</text>
<text x="7.9" y="431" class="b" style="font-size:10px">(d)</text>
</svg>
</body></html>
